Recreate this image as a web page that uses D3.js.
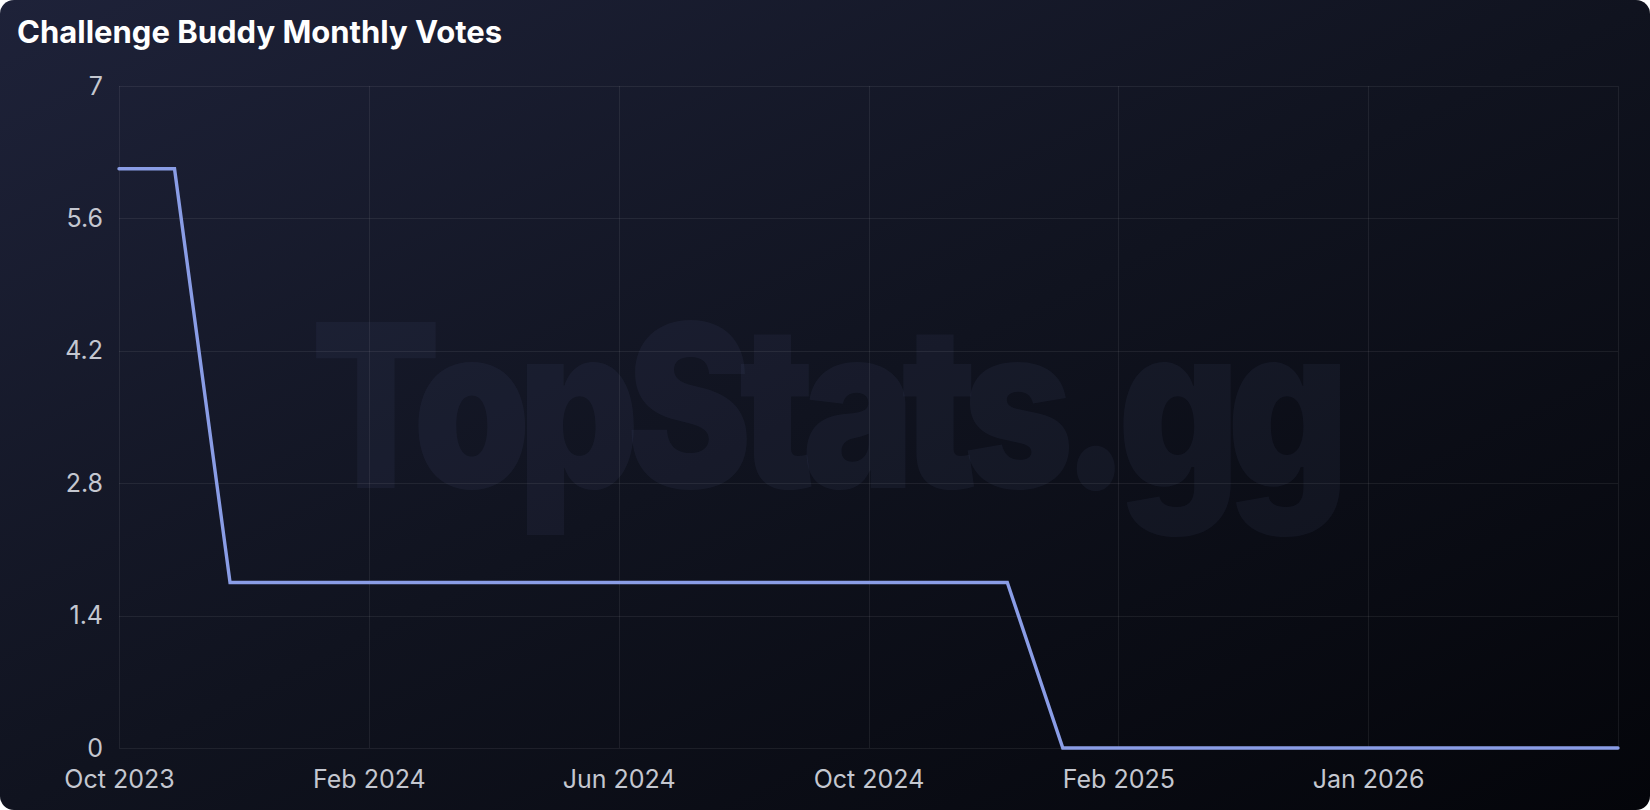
<!DOCTYPE html>
<html>
<head>
<meta charset="utf-8">
<script src="https://cdn.jsdelivr.net/npm/d3@7"></script>
<style>
  html, body { margin: 0; padding: 0; background: #ffffff; }
  svg { display: block; }
</style>
</head>
<body>
<div id="chart"></div>
<script>
const W = 1650, H = 810;

// monthly votes, one value per month in the series (28 points)
const votes = [6.125, 6.125,
               1.75, 1.75, 1.75, 1.75, 1.75, 1.75, 1.75, 1.75,
               1.75, 1.75, 1.75, 1.75, 1.75, 1.75, 1.75,
               0, 0, 0, 0, 0, 0, 0, 0, 0, 0, 0];
const yTicks = [0, 1.4, 2.8, 4.2, 5.6, 7];
const xTickLabels = ["Oct 2023", "Feb 2024", "Jun 2024", "Oct 2024", "Feb 2025", "Jan 2026", ""];

const margin = {top: 86, right: 32, bottom: 62, left: 119};

const svg = d3.select("#chart").append("svg")
    .attr("width", W)
    .attr("height", H);

// card background
const defs = svg.append("defs");
const grad = defs.append("linearGradient")
    .attr("id", "bg")
    .attr("x1", "0%").attr("y1", "0%")
    .attr("x2", "100%").attr("y2", "100%");
grad.append("stop").attr("offset", "0%").attr("stop-color", "#1e2239");
grad.append("stop").attr("offset", "50%").attr("stop-color", "#10131f");
grad.append("stop").attr("offset", "100%").attr("stop-color", "#04050a");

svg.append("rect")
    .attr("width", W).attr("height", H)
    .attr("rx", 14)
    .attr("fill", "url(#bg)");

// watermark
svg.append("text")
    .attr("x", 311)
    .attr("y", 488)
    .attr("textLength", 1025)
    .attr("lengthAdjust", "spacingAndGlyphs")
    .style("font-family", "Inter, sans-serif")
    .style("font-weight", 900)
    .style("font-size", "228px")
    .style("letter-spacing", "-16px")
    .attr("fill", "rgba(150,165,230,0.055)")
    .text("TopStats.gg");

// title
svg.append("text")
    .attr("x", 17)
    .attr("y", 43)
    .style("font-family", "Inter, sans-serif")
    .style("font-weight", 700)
    .style("font-size", "31px")
    .attr("fill", "#ffffff")
    .text("Challenge Buddy Monthly Votes");

const x = d3.scaleLinear()
    .domain([0, votes.length - 1])
    .range([margin.left, W - margin.right]);

const y = d3.scaleLinear()
    .domain([0, 7])
    .range([H - margin.bottom, margin.top]);

const xTicks = xTickLabels.map((d, i) => i * (votes.length - 1) / (xTickLabels.length - 1));

// grid
const grid = svg.append("g").attr("stroke", "rgba(255,255,255,0.07)").attr("stroke-width", 1);
grid.selectAll("line.h")
    .data(yTicks)
    .enter().append("line")
    .attr("class", "h")
    .attr("x1", x.range()[0]).attr("x2", x.range()[1])
    .attr("y1", d => Math.round(y(d)) + 0.5).attr("y2", d => Math.round(y(d)) + 0.5);
grid.selectAll("line.v")
    .data(xTicks)
    .enter().append("line")
    .attr("class", "v")
    .attr("y1", y.range()[0]).attr("y2", y.range()[1])
    .attr("x1", d => Math.round(x(d)) + 0.5).attr("x2", d => Math.round(x(d)) + 0.5);

// y axis labels
const yAxis = d3.axisLeft(y).tickValues(yTicks).tickSize(0).tickPadding(16)
    .tickFormat(d => d3.format("~g")(d));
svg.append("g")
    .attr("transform", `translate(${margin.left},0)`)
    .call(yAxis)
    .call(g => g.select(".domain").remove())
    .call(g => g.selectAll("text")
        .style("font-family", "Inter, sans-serif")
        .style("font-size", "25px")
        .attr("fill", "#c4c7d0"));

// x axis labels
const xAxis = d3.axisBottom(x).tickValues(xTicks).tickSize(0).tickPadding(22)
    .tickFormat((d, i) => xTickLabels[i]);
svg.append("g")
    .attr("transform", `translate(0,${H - margin.bottom})`)
    .call(xAxis)
    .call(g => g.select(".domain").remove())
    .call(g => g.selectAll("text")
        .style("font-family", "Inter, sans-serif")
        .style("font-size", "25px")
        .attr("fill", "#c4c7d0"));

// line
const line = d3.line()
    .x((d, i) => x(i))
    .y(d => y(d));

svg.append("path")
    .datum(votes)
    .attr("fill", "none")
    .attr("stroke", "#8a9de6")
    .attr("stroke-width", 3.4)
    .attr("stroke-linejoin", "miter")
    .attr("stroke-linecap", "round")
    .attr("d", line);
</script>
</body>
</html>
